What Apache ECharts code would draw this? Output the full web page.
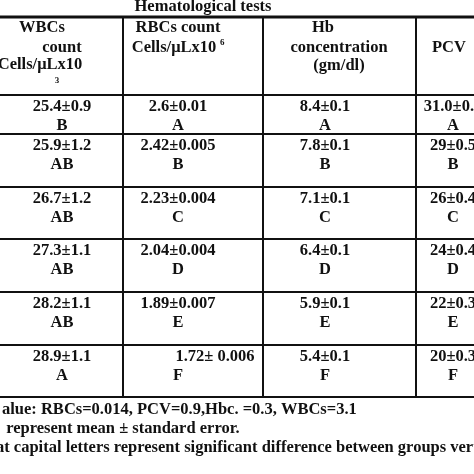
<!DOCTYPE html>
<html>
<head>
<meta charset="utf-8">
<script src="https://cdn.jsdelivr.net/npm/echarts@6/dist/echarts.min.js"></script>
<style>html,body{margin:0;padding:0;background:#fff}#main{width:474px;height:474px}</style>
</head>
<body>
<div id="main"></div>
<script>
// table values (mean ± SE, group letter)
var wbcValues = ['25.4±0.9', '25.9±1.2', '26.7±1.2', '27.3±1.1', '28.2±1.1', '28.9±1.1'];
var wbcLetters = ['B', 'AB', 'AB', 'AB', 'AB', 'A'];
var rbcValues = ['2.6±0.01', '2.42±0.005', '2.23±0.004', '2.04±0.004', '1.89±0.007', '1.72± 0.006'];
var rbcLetters = ['A', 'B', 'C', 'D', 'E', 'F'];
var hbValues = ['8.4±0.1', '7.8±0.1', '7.1±0.1', '6.4±0.1', '5.9±0.1', '5.4±0.1'];
var hbLetters = ['A', 'B', 'C', 'D', 'E', 'F'];
var pcvValues = ['31.0±0.6', '29±0.5', '26±0.4', '24±0.4', '22±0.3', '20±0.3'];
var pcvLetters = ['A', 'B', 'C', 'D', 'E', 'F'];
var footNotes = [
  'alue: RBCs=0.014, PCV=0.9,Hbc. =0.3, WBCs=3.1',
  ' represent mean ± standard error.',
  'at capital letters represent significant difference between groups vert'
];

var font = 'bold 16.5px "Liberation Serif"';
var small = 'bold 9px "Liberation Serif"';
var rowLines = [95, 134, 187, 239, 292, 345, 397];
var colLines = [123, 263, 416];
var colCenters = [62, 178, 325, 453];
var columns = [[wbcValues, wbcLetters], [rbcValues, rbcLetters], [hbValues, hbLetters], [pcvValues, pcvLetters]];

var els = [];
function txt(x, y, s, align, f) {
  els.push({type: 'text', x: x, y: y, style: {text: s, font: f || font, fill: '#111', align: align || 'center', verticalAlign: 'middle'}});
}
function line(x1, y1, x2, y2, w) {
  els.push({type: 'line', shape: {x1: x1, y1: y1, x2: x2, y2: y2}, style: {stroke: '#111', lineWidth: w || 2}});
}

txt(203, 7, 'Hematological tests');
line(0, 17, 474, 17, 3);
rowLines.forEach(function (y) { line(0, y, 474, y, 2); });
colLines.forEach(function (x) { line(x, 17, x, 397, 2); });

// header
txt(42, 28, 'WBCs'); txt(62, 48, 'count'); txt(40, 65, 'Cells/μLx10'); txt(57, 81, '3', 'center', small);
txt(178, 28, 'RBCs count'); txt(174, 48, 'Cells/μLx10'); txt(220, 43, '6', 'left', small);
txt(323, 28, 'Hb'); txt(339, 48, 'concentration'); txt(339, 66, '(gm/dl)');
txt(432, 48, 'PCV', 'left');

columns.forEach(function (col, c) {
  col[0].forEach(function (v, r) {
    var top = rowLines[r];
    var x = colCenters[c];
    if (c === 1 && r === 5) x = 215;
    txt(x, top + 12, v);
    txt(colCenters[c], top + 31, col[1][r]);
  });
});

footNotes.forEach(function (s, i) { txt(i === 2 ? -4 : 2, 410 + i * 19, s, 'left'); });

var chart = echarts.init(document.getElementById('main'));
chart.setOption({animation: false, graphic: {elements: els}});
</script>
</body>
</html>
